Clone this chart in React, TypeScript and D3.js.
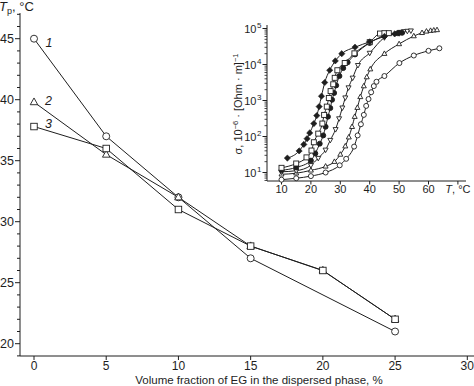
import React from "react";
import * as d3 from "d3";

// ---------- main chart data ----------
const fractionTicks = [0, 5, 10, 15, 20, 25, 30];
const tempTicks = [20, 25, 30, 35, 40, 45];
const tempMinor = [19, 21, 22, 23, 24, 26, 27, 28, 29, 31, 32, 33, 34, 36, 37, 38, 39, 41, 42, 43, 44, 46, 47];

const s1X = [0, 5, 10, 15, 25];
const s1Y = [45, 37, 32, 27, 21];
const s2X = [0, 5, 10, 15, 20, 25];
const s2Y = [39.8, 35.5, 32, 28, 26, 22];
const s3X = [0, 5, 10, 15, 20, 25];
const s3Y = [37.8, 36, 31, 28, 26, 22];

// ---------- inset data (T in °C, log10 of sigma) ----------
const insetTTicks = [10, 20, 30, 40, 50, 60];
const insetDecades = [1, 2, 3, 4, 5];

const diamondT = [12, 16, 17.6, 18.7, 19.6, 21, 22, 22.8, 23.6, 24.7, 26.4, 28.3, 30.5, 35, 40, 45, 48.5, 50];
const diamondLog = [1.4, 1.6, 1.78, 1.94, 2.1, 2.36, 2.58, 2.83, 3.12, 3.5, 3.84, 4.1, 4.3, 4.48, 4.63, 4.78, 4.85, 4.87];

const squareT = [10, 15, 18.5, 20.2, 21, 22.5, 23.9, 24.5, 25.4, 26.1, 26.7, 27.6, 28.1, 29, 31.5, 34.8, 40, 43.5, 45, 46.5];
const squareLog = [1.13, 1.25, 1.42, 1.61, 1.84, 2.08, 2.36, 2.6, 2.83, 3.07, 3.26, 3.45, 3.63, 3.84, 4.04, 4.31, 4.62, 4.86, 4.87, 4.87];

const dotT = [10, 15, 20, 21.5, 23, 24.2, 25, 25.8, 26.6, 27.2, 27.9, 28.6, 29.7, 31, 32.5, 35, 40, 45, 49.5, 51];
const dotLog = [1.06, 1.14, 1.33, 1.53, 1.8, 2.03, 2.27, 2.55, 2.79, 3.02, 3.21, 3.42, 3.68, 3.9, 4.06, 4.28, 4.6, 4.8, 4.87, 4.88];

const invTriT = [10, 15, 20, 22.5, 25, 26.6, 28.4, 29.6, 30.7, 31.7, 32.8, 34.2, 36, 40, 45, 50.3, 51.6, 52.8, 54];
const invTriLog = [1.02, 1.05, 1.2, 1.4, 1.63, 1.9, 2.2, 2.5, 2.8, 3.08, 3.36, 3.63, 3.98, 4.32, 4.75, 4.9, 4.92, 4.93, 4.94];

const triT = [10, 15, 20, 25, 28, 30, 31.7, 32.9, 34, 34.9, 35.8, 36.8, 38, 39, 40.2, 45, 50, 55, 57.8, 59.3, 60.7, 61.8, 62.9];
const triLog = [0.95, 0.98, 1.06, 1.17, 1.3, 1.5, 1.73, 1.98, 2.27, 2.55, 2.8, 3.1, 3.4, 3.65, 3.87, 4.3, 4.57, 4.79, 4.88, 4.92, 4.94, 4.95, 4.96];

const circT = [10, 15, 20, 25, 29.8, 32, 34.7, 35.9, 37, 38, 38.8, 39.6, 40.5, 41.4, 42.3, 45, 50.1, 55, 60, 63.7];
const circLog = [0.8, 0.84, 0.9, 1.0, 1.2, 1.38, 1.72, 2.03, 2.34, 2.6, 2.85, 3.04, 3.23, 3.4, 3.52, 3.68, 4.04, 4.25, 4.38, 4.45];

const INK = "#1e1e1e";
const FONT = "'Liberation Sans', Arial, Helvetica, sans-serif";

type Pt = [number, number];

function Marker({ kind, x, y, size }: { kind: string; x: number; y: number; size: number }) {
  const s = size;
  if (kind === "circle" || kind === "dot") {
    return <circle cx={x} cy={y} r={s / 2} fill={kind === "dot" ? INK : "#fff"} stroke={INK} strokeWidth={0.9} />;
  }
  if (kind === "square") {
    return <rect x={x - s / 2} y={y - s / 2} width={s} height={s} fill="#fff" stroke={INK} strokeWidth={0.9} />;
  }
  if (kind === "tri" || kind === "invtri") {
    const h = s * 0.9;
    const d = kind === "tri"
      ? `M${x},${y - h * 0.62} L${x + s / 2},${y + h * 0.38} L${x - s / 2},${y + h * 0.38}Z`
      : `M${x},${y + h * 0.62} L${x + s / 2},${y - h * 0.38} L${x - s / 2},${y - h * 0.38}Z`;
    return <path d={d} fill="#fff" stroke={INK} strokeWidth={0.9} />;
  }
  const r = s / 2 + 0.6;
  return <path d={`M${x},${y - r} L${x + r},${y} L${x},${y + r} L${x - r},${y}Z`} fill={INK} stroke={INK} strokeWidth={0.6} />;
}

export default function App() {
  const x = d3.scaleLinear().domain([0, 30]).range([34, 467.3]);
  const y = d3.scaleLinear().domain([20, 45]).range([343.7, 38.7]);
  const axisY = 356;
  const axisX = 20;
  const axisTop = y(47.1);

  const line = d3.line<Pt>().x((d) => x(d[0])).y((d) => y(d[1]));
  const zip = (a: number[], b: number[]): Pt[] => a.map((v, i) => [v, b[i]]);

  const main = [
    { kind: "circle", pts: zip(s1X, s1Y) },
    { kind: "tri", pts: zip(s2X, s2Y) },
    { kind: "square", pts: zip(s3X, s3Y) },
  ];

  const xi = d3.scaleLinear().domain([10, 60]).range([281.5, 428.5]);
  const yi = d3.scaleLog().domain([10, 1e5]).range([172.5, 28.5]);
  const iAxisX = 267;
  const iAxisY = 181;
  const iTop = 25;
  const iRight = 466;
  const lineI = d3
    .line<Pt>()
    .x((d) => xi(d[0]))
    .y((d) => yi(Math.pow(10, d[1])))
    .curve(d3.curveMonotoneX);

  const inset = [
    { kind: "circle", pts: zip(circT, circLog) },
    { kind: "tri", pts: zip(triT, triLog) },
    { kind: "invtri", pts: zip(invTriT, invTriLog) },
    { kind: "dot", pts: zip(dotT, dotLog) },
    { kind: "square", pts: zip(squareT, squareLog) },
    { kind: "diamond", pts: zip(diamondT, diamondLog) },
  ];

  const minorLog: number[] = [];
  for (let dec = 0; dec <= 5; dec++) {
    for (let m = 2; m <= 9; m++) {
      const v = m * Math.pow(10, dec);
      const py = yi(v);
      if (py >= iTop && py <= iAxisY) minorLog.push(v);
    }
  }

  return (
    <svg
      width={474}
      height={386}
      style={{ position: "absolute", left: 0, top: 0, background: "#fff" }}
      fontFamily={FONT}
    >
      <rect x={0} y={0} width={474} height={386} fill="#fff" />
      {/* main axes */}
      <line x1={axisX} y1={axisTop} x2={axisX} y2={axisY} stroke={INK} strokeWidth={1} />
      <line x1={axisX} y1={axisY} x2={474} y2={axisY} stroke={INK} strokeWidth={1} />
      {tempTicks.map((t) => (
        <g key={"yt" + t}>
          <line x1={axisX - 5} x2={axisX} y1={y(t)} y2={y(t)} stroke={INK} strokeWidth={1} />
          <text x={14} y={y(t) + 4.5} fontSize={12.5} textAnchor="end" fill={INK}>{t}</text>
        </g>
      ))}
      {tempMinor.map((t) => (
        <line key={"ym" + t} x1={axisX - 3} x2={axisX} y1={y(t)} y2={y(t)} stroke={INK} strokeWidth={1} />
      ))}
      {fractionTicks.map((t) => (
        <g key={"xt" + t}>
          <line x1={x(t)} x2={x(t)} y1={axisY} y2={axisY + 4} stroke={INK} strokeWidth={1} />
          <text x={x(t)} y={370} fontSize={12} textAnchor="middle" fill={INK}>{t}</text>
        </g>
      ))}
      <text x={259} y={383.6} fontSize={11.5} textAnchor="middle" fill={INK}>
        Volume fraction of EG in the dispersed phase, %
      </text>
      <text x={-1} y={11} fontSize={13} fill={INK}>
        <tspan fontStyle="italic">T</tspan>
        <tspan dy={3} fontSize={9}>p</tspan>
        <tspan dy={-3}>, °C</tspan>
      </text>

      {main.map((s, i) => (
        <path key={"ml" + i} d={line(s.pts) || ""} fill="none" stroke={INK} strokeWidth={1} />
      ))}
      {main.map((s, i) =>
        s.pts.map((p, j) => (
          <Marker key={"mm" + i + "-" + j} kind={s.kind} x={x(p[0])} y={y(p[1])} size={s.kind === "circle" ? 7 : s.kind === "tri" ? 7.5 : 6.5} />
        ))
      )}
      <text x={49} y={47} fontSize={12.5} fontStyle="italic" textAnchor="middle" fill={INK}>1</text>
      <text x={48.5} y={105} fontSize={12.5} fontStyle="italic" textAnchor="middle" fill={INK}>2</text>
      <text x={48.5} y={127.5} fontSize={12.5} fontStyle="italic" textAnchor="middle" fill={INK}>3</text>

      {/* inset */}
      <line x1={iAxisX} y1={iTop} x2={iAxisX} y2={iAxisY} stroke={INK} strokeWidth={1} />
      <line x1={iAxisX} y1={iAxisY} x2={iRight} y2={iAxisY} stroke={INK} strokeWidth={1} />
      {insetDecades.map((d) => (
        <g key={"id" + d}>
          <line x1={iAxisX - 4.5} x2={iAxisX} y1={yi(Math.pow(10, d))} y2={yi(Math.pow(10, d))} stroke={INK} strokeWidth={1} />
          <text x={256.5} y={yi(Math.pow(10, d)) + 4} fontSize={11} textAnchor="end" fill={INK}>10</text>
          <text x={257} y={yi(Math.pow(10, d)) - 1} fontSize={8} textAnchor="start" fill={INK}>{d}</text>
        </g>
      ))}
      {minorLog.map((v, i) => (
        <line key={"im" + i} x1={iAxisX - 2.5} x2={iAxisX} y1={yi(v)} y2={yi(v)} stroke={INK} strokeWidth={0.8} />
      ))}
      {[...insetTTicks, 70].map((t) => (
        <line key={"ixt" + t} x1={xi(t)} x2={xi(t)} y1={iAxisY} y2={iAxisY + 3.5} stroke={INK} strokeWidth={1} />
      ))}
      {insetTTicks.map((t) => (
        <text key={"ixl" + t} x={xi(t)} y={193} fontSize={11} textAnchor="middle" fill={INK}>{t}</text>
      ))}
      <text x={xi(70)} y={193} fontSize={11} textAnchor="middle" fill={INK}>
        <tspan fontStyle="italic">T</tspan>, °C
      </text>
      <text transform="translate(242,104) rotate(-90)" fontSize={11} textAnchor="middle" fill={INK}>
        σ, 10<tspan dy={-4} fontSize={7.5}>−6</tspan><tspan dy={4}> · [Ohm · m]</tspan><tspan dy={-4} fontSize={7.5}>−1</tspan>
      </text>

      {inset.map((s, i) => (
        <path key={"il" + i} d={lineI(s.pts) || ""} fill="none" stroke={INK} strokeWidth={1} />
      ))}
      {inset.map((s, i) =>
        s.pts.map((p, j) => (
          <Marker key={"ip" + i + "-" + j} kind={s.kind} x={xi(p[0])} y={yi(Math.pow(10, p[1]))} size={5} />
        ))
      )}
    </svg>
  );
}
